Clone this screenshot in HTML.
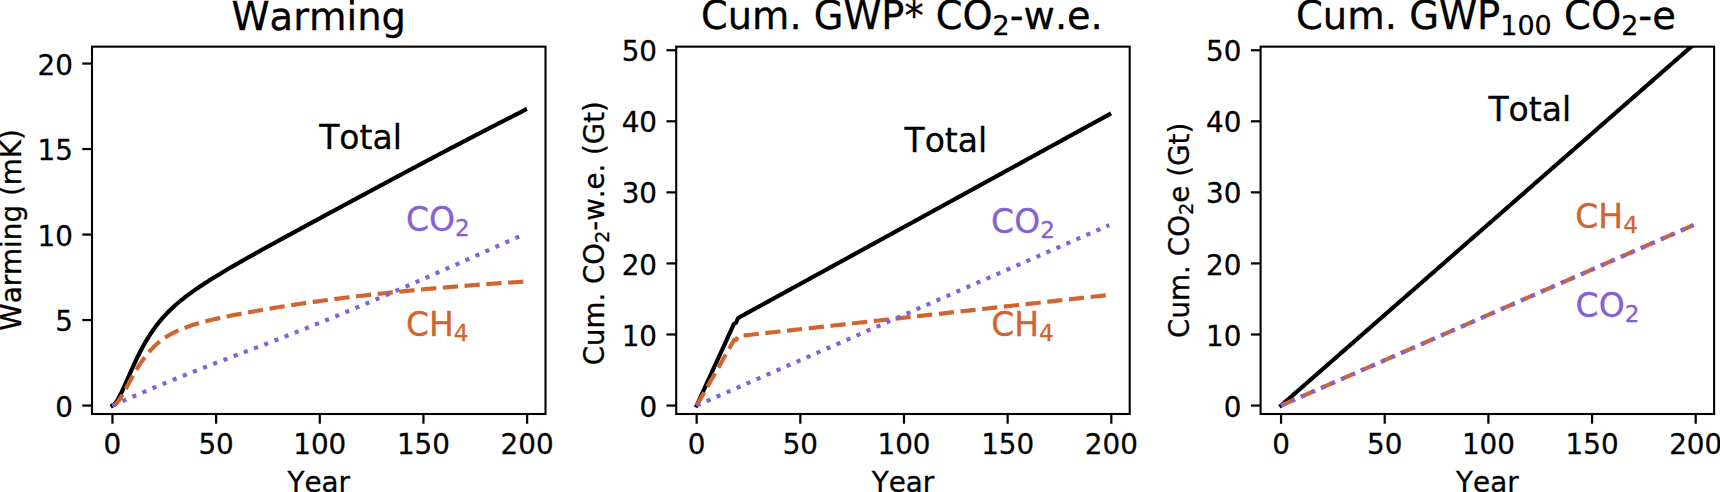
<!DOCTYPE html>
<html><head><meta charset="utf-8"><title>Warming and cumulative emissions</title>
<style>html,body{margin:0;padding:0;background:#fff}svg{display:block}text{font-kerning:none;font-family:"DejaVu Sans","Liberation Sans",sans-serif;fill:#000;stroke:#000;stroke-width:.3px;stroke-linejoin:round}</style></head><body>
<svg width="1720" height="492" viewBox="0 0 1720 492">
<rect width="1720" height="492" fill="#fff"/>
<defs>
<clipPath id="c0"><rect x="92.00" y="46.65" width="453.50" height="367.35"/></clipPath>
<clipPath id="c1"><rect x="676.20" y="46.65" width="453.50" height="367.35"/></clipPath>
<clipPath id="c2"><rect x="1260.60" y="46.65" width="453.50" height="367.35"/></clipPath>
</defs>
<g clip-path="url(#c0)" fill="none" stroke-width="4.17">
<path d="M112.45,405.55 L114.52,404.07 L116.60,401.47 L118.67,398.06 L120.74,394.07 L122.82,389.69 L124.89,385.08 L126.96,380.36 L129.04,375.60 L131.11,370.89 L133.18,366.27 L135.26,361.78 L137.33,357.44 L139.40,353.26 L141.48,349.26 L143.55,345.45 L145.62,341.81 L147.70,338.35 L149.77,335.06 L151.84,331.93 L153.92,328.96 L155.99,326.14 L158.06,323.45 L160.14,320.89 L162.21,318.45 L164.28,316.12 L166.36,313.89 L168.43,311.76 L170.50,309.71 L172.58,307.74 L174.65,305.84 L176.72,304.00 L178.80,302.23 L180.87,300.50 L182.94,298.83 L185.02,297.21 L187.09,295.62 L189.16,294.08 L191.24,292.56 L193.31,291.08 L195.38,289.63 L197.46,288.20 L199.53,286.80 L201.60,285.42 L203.68,284.06 L205.75,282.71 L207.82,281.38 L209.90,280.07 L211.97,278.77 L214.04,277.48 L216.12,276.21 L218.19,274.95 L220.26,273.69 L222.33,272.45 L224.41,271.21 L226.48,269.99 L228.55,268.77 L230.63,267.56 L232.70,266.35 L234.77,265.15 L236.85,263.96 L238.92,262.77 L240.99,261.58 L243.07,260.40 L245.14,259.22 L247.21,258.05 L249.29,256.88 L251.36,255.72 L253.43,254.56 L255.51,253.40 L257.58,252.24 L259.65,251.09 L261.73,249.94 L263.80,248.79 L265.87,247.65 L267.95,246.51 L270.02,245.37 L272.09,244.23 L274.17,243.10 L276.24,241.97 L278.31,240.84 L280.39,239.70 L282.46,238.57 L284.53,237.44 L286.61,236.32 L288.68,235.19 L290.75,234.06 L292.83,232.93 L294.90,231.80 L296.97,230.67 L299.05,229.55 L301.12,228.42 L303.19,227.30 L305.27,226.17 L307.34,225.05 L309.41,223.92 L311.49,222.80 L313.56,221.68 L315.63,220.55 L317.71,219.43 L319.78,218.31 L321.85,217.19 L323.93,216.07 L326.00,214.95 L328.07,213.83 L330.15,212.71 L332.22,211.59 L334.29,210.47 L336.37,209.35 L338.44,208.24 L340.51,207.12 L342.59,206.00 L344.66,204.88 L346.73,203.77 L348.81,202.65 L350.88,201.54 L352.95,200.42 L355.03,199.31 L357.10,198.19 L359.17,197.08 L361.25,195.96 L363.32,194.85 L365.39,193.73 L367.47,192.62 L369.54,191.50 L371.61,190.39 L373.69,189.28 L375.76,188.17 L377.83,187.05 L379.91,185.94 L381.98,184.83 L384.05,183.72 L386.13,182.61 L388.20,181.50 L390.27,180.39 L392.35,179.28 L394.42,178.17 L396.49,177.06 L398.57,175.95 L400.64,174.84 L402.71,173.74 L404.79,172.63 L406.86,171.52 L408.93,170.42 L411.01,169.31 L413.08,168.21 L415.15,167.10 L417.23,166.00 L419.30,164.90 L421.37,163.79 L423.44,162.69 L425.52,161.59 L427.59,160.49 L429.66,159.40 L431.74,158.30 L433.81,157.20 L435.88,156.11 L437.96,155.01 L440.03,153.92 L442.10,152.82 L444.18,151.73 L446.25,150.64 L448.32,149.55 L450.40,148.46 L452.47,147.37 L454.54,146.29 L456.62,145.20 L458.69,144.11 L460.76,143.03 L462.84,141.95 L464.91,140.86 L466.98,139.78 L469.06,138.70 L471.13,137.62 L473.20,136.55 L475.28,135.47 L477.35,134.39 L479.42,133.32 L481.50,132.24 L483.57,131.17 L485.64,130.10 L487.72,129.03 L489.79,127.96 L491.86,126.89 L493.94,125.82 L496.01,124.75 L498.08,123.68 L500.16,122.62 L502.23,121.56 L504.30,120.49 L506.38,119.43 L508.45,118.37 L510.52,117.31 L512.60,116.25 L514.67,115.19 L516.74,114.13 L518.82,113.08 L520.89,112.02 L522.96,110.97 L525.04,109.91" stroke="#000" stroke-linecap="square" stroke-linejoin="round"/>
<path d="M112.45,405.55 L114.52,404.99 L116.60,403.30 L118.67,400.79 L120.74,397.71 L122.82,394.23 L124.89,390.53 L126.96,386.70 L129.04,382.84 L131.11,379.02 L133.18,375.30 L135.26,371.69 L137.33,368.23 L139.40,364.94 L141.48,361.83 L143.55,358.89 L145.62,356.13 L147.70,353.54 L149.77,351.12 L151.84,348.86 L153.92,346.76 L155.99,344.80 L158.06,342.97 L160.14,341.27 L162.21,339.69 L164.28,338.21 L166.36,336.83 L168.43,335.54 L170.50,334.34 L172.58,333.21 L174.65,332.15 L176.72,331.15 L178.80,330.21 L180.87,329.33 L182.94,328.49 L185.02,327.69 L187.09,326.93 L189.16,326.21 L191.24,325.52 L193.31,324.85 L195.38,324.22 L197.46,323.60 L199.53,323.01 L201.60,322.44 L203.68,321.89 L205.75,321.35 L207.82,320.82 L209.90,320.31 L211.97,319.82 L214.04,319.33 L216.12,318.85 L218.19,318.39 L220.26,317.93 L222.33,317.48 L224.41,317.04 L226.48,316.60 L228.55,316.17 L230.63,315.75 L232.70,315.33 L234.77,314.92 L236.85,314.52 L238.92,314.12 L240.99,313.72 L243.07,313.33 L245.14,312.94 L247.21,312.56 L249.29,312.18 L251.36,311.80 L253.43,311.43 L255.51,311.06 L257.58,310.69 L259.65,310.33 L261.73,309.97 L263.80,309.62 L265.87,309.26 L267.95,308.91 L270.02,308.57 L272.09,308.22 L274.17,307.88 L276.24,307.54 L278.31,307.21 L280.39,306.88 L282.46,306.55 L284.53,306.22 L286.61,305.90 L288.68,305.58 L290.75,305.26 L292.83,304.94 L294.90,304.63 L296.97,304.31 L299.05,304.01 L301.12,303.70 L303.19,303.40 L305.27,303.09 L307.34,302.80 L309.41,302.50 L311.49,302.20 L313.56,301.91 L315.63,301.62 L317.71,301.34 L319.78,301.05 L321.85,300.77 L323.93,300.49 L326.00,300.21 L328.07,299.93 L330.15,299.66 L332.22,299.39 L334.29,299.12 L336.37,298.85 L338.44,298.58 L340.51,298.32 L342.59,298.06 L344.66,297.80 L346.73,297.54 L348.81,297.29 L350.88,297.04 L352.95,296.78 L355.03,296.53 L357.10,296.29 L359.17,296.04 L361.25,295.80 L363.32,295.56 L365.39,295.32 L367.47,295.08 L369.54,294.85 L371.61,294.61 L373.69,294.38 L375.76,294.15 L377.83,293.92 L379.91,293.69 L381.98,293.47 L384.05,293.25 L386.13,293.03 L388.20,292.81 L390.27,292.59 L392.35,292.37 L394.42,292.16 L396.49,291.95 L398.57,291.73 L400.64,291.53 L402.71,291.32 L404.79,291.11 L406.86,290.91 L408.93,290.70 L411.01,290.50 L413.08,290.30 L415.15,290.11 L417.23,289.91 L419.30,289.71 L421.37,289.52 L423.44,289.33 L425.52,289.14 L427.59,288.95 L429.66,288.76 L431.74,288.58 L433.81,288.39 L435.88,288.21 L437.96,288.03 L440.03,287.85 L442.10,287.67 L444.18,287.49 L446.25,287.32 L448.32,287.14 L450.40,286.97 L452.47,286.80 L454.54,286.63 L456.62,286.46 L458.69,286.29 L460.76,286.12 L462.84,285.96 L464.91,285.80 L466.98,285.63 L469.06,285.47 L471.13,285.31 L473.20,285.15 L475.28,285.00 L477.35,284.84 L479.42,284.69 L481.50,284.53 L483.57,284.38 L485.64,284.23 L487.72,284.08 L489.79,283.93 L491.86,283.78 L493.94,283.63 L496.01,283.49 L498.08,283.34 L500.16,283.20 L502.23,283.06 L504.30,282.92 L506.38,282.78 L508.45,282.64 L510.52,282.50 L512.60,282.37 L514.67,282.23 L516.74,282.10 L518.82,281.96 L520.89,281.83 L522.96,281.70 L525.04,281.57" stroke="#D1652F" stroke-dasharray="15.232 6.587" stroke-linejoin="round"/>
<path d="M112.45,405.55 L114.52,404.64 L116.60,403.73 L118.67,402.82 L120.74,401.91 L122.82,401.01 L124.89,400.11 L126.96,399.21 L129.04,398.31 L131.11,397.42 L133.18,396.53 L135.26,395.64 L137.33,394.75 L139.40,393.87 L141.48,392.99 L143.55,392.11 L145.62,391.23 L147.70,390.36 L149.77,389.49 L151.84,388.62 L153.92,387.75 L155.99,386.89 L158.06,386.03 L160.14,385.17 L162.21,384.32 L164.28,383.46 L166.36,382.61 L168.43,381.77 L170.50,380.92 L172.58,380.08 L174.65,379.24 L176.72,378.40 L178.80,377.56 L180.87,376.73 L182.94,375.90 L185.02,375.07 L187.09,374.24 L189.16,373.42 L191.24,372.60 L193.31,371.78 L195.38,370.96 L197.46,370.15 L199.53,369.34 L201.60,368.53 L203.68,367.72 L205.75,366.91 L207.82,366.11 L209.90,365.31 L211.97,364.50 L214.04,363.70 L216.12,362.91 L218.19,362.11 L220.26,361.31 L222.33,360.52 L224.41,359.73 L226.48,358.94 L228.55,358.15 L230.63,357.36 L232.70,356.57 L234.77,355.78 L236.85,354.99 L238.92,354.20 L240.99,353.41 L243.07,352.62 L245.14,351.84 L247.21,351.05 L249.29,350.26 L251.36,349.47 L253.43,348.68 L255.51,347.89 L257.58,347.10 L259.65,346.31 L261.73,345.52 L263.80,344.73 L265.87,343.94 L267.95,343.15 L270.02,342.35 L272.09,341.56 L274.17,340.77 L276.24,339.97 L278.31,339.18 L280.39,338.38 L282.46,337.58 L284.53,336.77 L286.61,335.97 L288.68,335.16 L290.75,334.35 L292.83,333.54 L294.90,332.73 L296.97,331.91 L299.05,331.09 L301.12,330.27 L303.19,329.45 L305.27,328.63 L307.34,327.80 L309.41,326.97 L311.49,326.14 L313.56,325.31 L315.63,324.48 L317.71,323.65 L319.78,322.81 L321.85,321.97 L323.93,321.13 L326.00,320.29 L328.07,319.45 L330.15,318.60 L332.22,317.75 L334.29,316.90 L336.37,316.05 L338.44,315.20 L340.51,314.35 L342.59,313.49 L344.66,312.63 L346.73,311.77 L348.81,310.91 L350.88,310.05 L352.95,309.19 L355.03,308.32 L357.10,307.45 L359.17,306.58 L361.25,305.71 L363.32,304.84 L365.39,303.96 L367.47,303.09 L369.54,302.21 L371.61,301.33 L373.69,300.45 L375.76,299.57 L377.83,298.68 L379.91,297.80 L381.98,296.91 L384.05,296.02 L386.13,295.13 L388.20,294.24 L390.27,293.35 L392.35,292.46 L394.42,291.56 L396.49,290.67 L398.57,289.77 L400.64,288.87 L402.71,287.97 L404.79,287.07 L406.86,286.17 L408.93,285.26 L411.01,284.36 L413.08,283.45 L415.15,282.55 L417.23,281.64 L419.30,280.73 L421.37,279.82 L423.44,278.91 L425.52,278.00 L427.59,277.09 L429.66,276.18 L431.74,275.27 L433.81,274.36 L435.88,273.45 L437.96,272.53 L440.03,271.62 L442.10,270.70 L444.18,269.79 L446.25,268.87 L448.32,267.96 L450.40,267.04 L452.47,266.13 L454.54,265.21 L456.62,264.29 L458.69,263.37 L460.76,262.46 L462.84,261.54 L464.91,260.62 L466.98,259.70 L469.06,258.78 L471.13,257.86 L473.20,256.94 L475.28,256.02 L477.35,255.10 L479.42,254.18 L481.50,253.26 L483.57,252.34 L485.64,251.42 L487.72,250.50 L489.79,249.58 L491.86,248.66 L493.94,247.73 L496.01,246.81 L498.08,245.89 L500.16,244.97 L502.23,244.05 L504.30,243.12 L506.38,242.20 L508.45,241.28 L510.52,240.35 L512.60,239.43 L514.67,238.51 L516.74,237.59 L518.82,236.66 L520.89,235.74 L522.96,234.82 L525.04,233.89" stroke="#8562D4" stroke-dasharray="4.117 6.792" stroke-linejoin="round"/>
</g>
<g clip-path="url(#c1)" fill="none" stroke-width="4.17">
<path d="M696.65,405.55 L698.72,401.01 L700.80,396.47 L702.87,391.94 L704.94,387.40 L707.02,382.86 L709.09,378.32 L711.16,373.78 L713.24,369.24 L715.31,364.71 L717.38,360.17 L719.46,355.63 L721.53,351.09 L723.60,346.55 L725.68,342.02 L727.75,337.48 L729.82,332.94 L731.90,328.40 L733.97,323.86 L736.04,322.73 L738.12,317.98 L740.19,316.85 L742.26,315.71 L744.34,314.57 L746.41,313.44 L748.48,312.30 L750.56,311.16 L752.63,310.02 L754.70,308.89 L756.78,307.75 L758.85,306.61 L760.92,305.47 L763.00,304.34 L765.07,303.20 L767.14,302.06 L769.22,300.93 L771.29,299.79 L773.36,298.65 L775.44,297.51 L777.51,296.38 L779.58,295.24 L781.66,294.10 L783.73,292.97 L785.80,291.83 L787.88,290.69 L789.95,289.55 L792.02,288.42 L794.10,287.28 L796.17,286.14 L798.24,285.00 L800.32,283.87 L802.39,282.73 L804.46,281.59 L806.53,280.46 L808.61,279.32 L810.68,278.18 L812.75,277.04 L814.83,275.91 L816.90,274.77 L818.97,273.63 L821.05,272.50 L823.12,271.36 L825.19,270.22 L827.27,269.08 L829.34,267.95 L831.41,266.81 L833.49,265.67 L835.56,264.53 L837.63,263.40 L839.71,262.26 L841.78,261.12 L843.85,259.99 L845.93,258.85 L848.00,257.71 L850.07,256.57 L852.15,255.44 L854.22,254.30 L856.29,253.16 L858.37,252.03 L860.44,250.89 L862.51,249.75 L864.59,248.61 L866.66,247.48 L868.73,246.34 L870.81,245.20 L872.88,244.06 L874.95,242.93 L877.03,241.79 L879.10,240.65 L881.17,239.52 L883.25,238.38 L885.32,237.24 L887.39,236.10 L889.47,234.97 L891.54,233.83 L893.61,232.69 L895.69,231.55 L897.76,230.42 L899.83,229.28 L901.91,228.14 L903.98,227.01 L906.05,225.87 L908.13,224.73 L910.20,223.59 L912.27,222.46 L914.35,221.32 L916.42,220.18 L918.49,219.05 L920.57,217.91 L922.64,216.77 L924.71,215.63 L926.79,214.50 L928.86,213.36 L930.93,212.22 L933.01,211.08 L935.08,209.95 L937.15,208.81 L939.23,207.67 L941.30,206.54 L943.37,205.40 L945.45,204.26 L947.52,203.12 L949.59,201.99 L951.67,200.85 L953.74,199.71 L955.81,198.58 L957.89,197.44 L959.96,196.30 L962.03,195.16 L964.11,194.03 L966.18,192.89 L968.25,191.75 L970.33,190.61 L972.40,189.48 L974.47,188.34 L976.55,187.20 L978.62,186.07 L980.69,184.93 L982.77,183.79 L984.84,182.65 L986.91,181.52 L988.99,180.38 L991.06,179.24 L993.13,178.10 L995.21,176.97 L997.28,175.83 L999.35,174.69 L1001.43,173.56 L1003.50,172.42 L1005.57,171.28 L1007.65,170.14 L1009.72,169.01 L1011.79,167.87 L1013.86,166.73 L1015.94,165.60 L1018.01,164.46 L1020.08,163.32 L1022.16,162.18 L1024.23,161.05 L1026.30,159.91 L1028.38,158.77 L1030.45,157.63 L1032.52,156.50 L1034.60,155.36 L1036.67,154.22 L1038.74,153.09 L1040.82,151.95 L1042.89,150.81 L1044.96,149.67 L1047.04,148.54 L1049.11,147.40 L1051.18,146.26 L1053.26,145.13 L1055.33,143.99 L1057.40,142.85 L1059.48,141.71 L1061.55,140.58 L1063.62,139.44 L1065.70,138.30 L1067.77,137.16 L1069.84,136.03 L1071.92,134.89 L1073.99,133.75 L1076.06,132.62 L1078.14,131.48 L1080.21,130.34 L1082.28,129.20 L1084.36,128.07 L1086.43,126.93 L1088.50,125.79 L1090.58,124.66 L1092.65,123.52 L1094.72,122.38 L1096.80,121.24 L1098.87,120.11 L1100.94,118.97 L1103.02,117.83 L1105.09,116.69 L1107.16,115.56 L1109.24,114.42" stroke="#000" stroke-linecap="square" stroke-linejoin="round"/>
<path d="M696.65,405.55 L698.72,401.92 L700.80,398.29 L702.87,394.66 L704.94,391.03 L707.02,387.39 L709.09,383.76 L711.16,380.13 L713.24,376.50 L715.31,372.87 L717.38,369.24 L719.46,365.61 L721.53,361.98 L723.60,358.34 L725.68,354.71 L727.75,351.08 L729.82,347.45 L731.90,343.82 L733.97,340.19 L736.04,339.96 L738.12,336.12 L740.19,335.89 L742.26,335.66 L744.34,335.43 L746.41,335.20 L748.48,334.97 L750.56,334.74 L752.63,334.51 L754.70,334.28 L756.78,334.05 L758.85,333.82 L760.92,333.59 L763.00,333.36 L765.07,333.13 L767.14,332.90 L769.22,332.67 L771.29,332.44 L773.36,332.21 L775.44,331.98 L777.51,331.75 L779.58,331.52 L781.66,331.29 L783.73,331.06 L785.80,330.83 L787.88,330.60 L789.95,330.37 L792.02,330.14 L794.10,329.91 L796.17,329.68 L798.24,329.45 L800.32,329.22 L802.39,328.99 L804.46,328.76 L806.53,328.53 L808.61,328.30 L810.68,328.07 L812.75,327.84 L814.83,327.61 L816.90,327.38 L818.97,327.15 L821.05,326.92 L823.12,326.68 L825.19,326.45 L827.27,326.22 L829.34,325.99 L831.41,325.76 L833.49,325.53 L835.56,325.30 L837.63,325.07 L839.71,324.84 L841.78,324.61 L843.85,324.38 L845.93,324.15 L848.00,323.92 L850.07,323.69 L852.15,323.46 L854.22,323.23 L856.29,323.00 L858.37,322.77 L860.44,322.54 L862.51,322.31 L864.59,322.08 L866.66,321.85 L868.73,321.62 L870.81,321.39 L872.88,321.16 L874.95,320.93 L877.03,320.70 L879.10,320.47 L881.17,320.24 L883.25,320.01 L885.32,319.78 L887.39,319.55 L889.47,319.32 L891.54,319.09 L893.61,318.86 L895.69,318.63 L897.76,318.40 L899.83,318.17 L901.91,317.94 L903.98,317.71 L906.05,317.48 L908.13,317.25 L910.20,317.01 L912.27,316.78 L914.35,316.55 L916.42,316.32 L918.49,316.09 L920.57,315.86 L922.64,315.63 L924.71,315.40 L926.79,315.17 L928.86,314.94 L930.93,314.71 L933.01,314.48 L935.08,314.25 L937.15,314.02 L939.23,313.79 L941.30,313.56 L943.37,313.33 L945.45,313.10 L947.52,312.87 L949.59,312.64 L951.67,312.41 L953.74,312.18 L955.81,311.95 L957.89,311.72 L959.96,311.49 L962.03,311.26 L964.11,311.03 L966.18,310.80 L968.25,310.57 L970.33,310.34 L972.40,310.11 L974.47,309.88 L976.55,309.65 L978.62,309.42 L980.69,309.19 L982.77,308.96 L984.84,308.73 L986.91,308.50 L988.99,308.27 L991.06,308.04 L993.13,307.81 L995.21,307.58 L997.28,307.35 L999.35,307.11 L1001.43,306.88 L1003.50,306.65 L1005.57,306.42 L1007.65,306.19 L1009.72,305.96 L1011.79,305.73 L1013.86,305.50 L1015.94,305.27 L1018.01,305.04 L1020.08,304.81 L1022.16,304.58 L1024.23,304.35 L1026.30,304.12 L1028.38,303.89 L1030.45,303.66 L1032.52,303.43 L1034.60,303.20 L1036.67,302.97 L1038.74,302.74 L1040.82,302.51 L1042.89,302.28 L1044.96,302.05 L1047.04,301.82 L1049.11,301.59 L1051.18,301.36 L1053.26,301.13 L1055.33,300.90 L1057.40,300.67 L1059.48,300.44 L1061.55,300.21 L1063.62,299.98 L1065.70,299.75 L1067.77,299.52 L1069.84,299.29 L1071.92,299.06 L1073.99,298.83 L1076.06,298.60 L1078.14,298.37 L1080.21,298.14 L1082.28,297.91 L1084.36,297.68 L1086.43,297.45 L1088.50,297.21 L1090.58,296.98 L1092.65,296.75 L1094.72,296.52 L1096.80,296.29 L1098.87,296.06 L1100.94,295.83 L1103.02,295.60 L1105.09,295.37 L1107.16,295.14 L1109.24,294.91" stroke="#D1652F" stroke-dasharray="15.232 6.587" stroke-linejoin="round"/>
<path d="M696.65,405.55 L698.72,404.64 L700.80,403.74 L702.87,402.83 L704.94,401.92 L707.02,401.02 L709.09,400.11 L711.16,399.20 L713.24,398.29 L715.31,397.39 L717.38,396.48 L719.46,395.57 L721.53,394.67 L723.60,393.76 L725.68,392.85 L727.75,391.95 L729.82,391.04 L731.90,390.13 L733.97,389.22 L736.04,388.32 L738.12,387.41 L740.19,386.50 L742.26,385.60 L744.34,384.69 L746.41,383.78 L748.48,382.88 L750.56,381.97 L752.63,381.06 L754.70,380.15 L756.78,379.25 L758.85,378.34 L760.92,377.43 L763.00,376.53 L765.07,375.62 L767.14,374.71 L769.22,373.81 L771.29,372.90 L773.36,371.99 L775.44,371.08 L777.51,370.18 L779.58,369.27 L781.66,368.36 L783.73,367.46 L785.80,366.55 L787.88,365.64 L789.95,364.74 L792.02,363.83 L794.10,362.92 L796.17,362.01 L798.24,361.11 L800.32,360.20 L802.39,359.29 L804.46,358.39 L806.53,357.48 L808.61,356.57 L810.68,355.67 L812.75,354.76 L814.83,353.85 L816.90,352.94 L818.97,352.04 L821.05,351.13 L823.12,350.22 L825.19,349.32 L827.27,348.41 L829.34,347.50 L831.41,346.60 L833.49,345.69 L835.56,344.78 L837.63,343.87 L839.71,342.97 L841.78,342.06 L843.85,341.15 L845.93,340.25 L848.00,339.34 L850.07,338.43 L852.15,337.53 L854.22,336.62 L856.29,335.71 L858.37,334.80 L860.44,333.90 L862.51,332.99 L864.59,332.08 L866.66,331.18 L868.73,330.27 L870.81,329.36 L872.88,328.46 L874.95,327.55 L877.03,326.64 L879.10,325.73 L881.17,324.83 L883.25,323.92 L885.32,323.01 L887.39,322.11 L889.47,321.20 L891.54,320.29 L893.61,319.39 L895.69,318.48 L897.76,317.57 L899.83,316.66 L901.91,315.76 L903.98,314.85 L906.05,313.94 L908.13,313.04 L910.20,312.13 L912.27,311.22 L914.35,310.32 L916.42,309.41 L918.49,308.50 L920.57,307.59 L922.64,306.69 L924.71,305.78 L926.79,304.87 L928.86,303.97 L930.93,303.06 L933.01,302.15 L935.08,301.25 L937.15,300.34 L939.23,299.43 L941.30,298.52 L943.37,297.62 L945.45,296.71 L947.52,295.80 L949.59,294.90 L951.67,293.99 L953.74,293.08 L955.81,292.18 L957.89,291.27 L959.96,290.36 L962.03,289.45 L964.11,288.55 L966.18,287.64 L968.25,286.73 L970.33,285.83 L972.40,284.92 L974.47,284.01 L976.55,283.11 L978.62,282.20 L980.69,281.29 L982.77,280.38 L984.84,279.48 L986.91,278.57 L988.99,277.66 L991.06,276.76 L993.13,275.85 L995.21,274.94 L997.28,274.04 L999.35,273.13 L1001.43,272.22 L1003.50,271.31 L1005.57,270.41 L1007.65,269.50 L1009.72,268.59 L1011.79,267.69 L1013.86,266.78 L1015.94,265.87 L1018.01,264.97 L1020.08,264.06 L1022.16,263.15 L1024.23,262.24 L1026.30,261.34 L1028.38,260.43 L1030.45,259.52 L1032.52,258.62 L1034.60,257.71 L1036.67,256.80 L1038.74,255.90 L1040.82,254.99 L1042.89,254.08 L1044.96,253.17 L1047.04,252.27 L1049.11,251.36 L1051.18,250.45 L1053.26,249.55 L1055.33,248.64 L1057.40,247.73 L1059.48,246.83 L1061.55,245.92 L1063.62,245.01 L1065.70,244.10 L1067.77,243.20 L1069.84,242.29 L1071.92,241.38 L1073.99,240.48 L1076.06,239.57 L1078.14,238.66 L1080.21,237.76 L1082.28,236.85 L1084.36,235.94 L1086.43,235.03 L1088.50,234.13 L1090.58,233.22 L1092.65,232.31 L1094.72,231.41 L1096.80,230.50 L1098.87,229.59 L1100.94,228.69 L1103.02,227.78 L1105.09,226.87 L1107.16,225.96 L1109.24,225.06" stroke="#8562D4" stroke-dasharray="4.117 6.792" stroke-linejoin="round"/>
</g>
<g clip-path="url(#c2)" fill="none" stroke-width="4.17">
<path d="M1281.05,405.55 L1283.12,403.74 L1285.20,401.92 L1287.27,400.11 L1289.34,398.29 L1291.42,396.48 L1293.49,394.67 L1295.56,392.85 L1297.64,391.04 L1299.71,389.22 L1301.78,387.41 L1303.86,385.60 L1305.93,383.78 L1308.00,381.97 L1310.08,380.15 L1312.15,378.34 L1314.22,376.53 L1316.30,374.71 L1318.37,372.90 L1320.44,371.08 L1322.52,369.27 L1324.59,367.46 L1326.66,365.64 L1328.74,363.83 L1330.81,362.01 L1332.88,360.20 L1334.96,358.39 L1337.03,356.57 L1339.10,354.76 L1341.18,352.94 L1343.25,351.13 L1345.32,349.32 L1347.40,347.50 L1349.47,345.69 L1351.54,343.87 L1353.62,342.06 L1355.69,340.25 L1357.76,338.43 L1359.84,336.62 L1361.91,334.80 L1363.98,332.99 L1366.06,331.18 L1368.13,329.36 L1370.20,327.55 L1372.28,325.73 L1374.35,323.92 L1376.42,322.11 L1378.50,320.29 L1380.57,318.48 L1382.64,316.66 L1384.71,314.85 L1386.79,313.04 L1388.86,311.22 L1390.93,309.41 L1393.01,307.59 L1395.08,305.78 L1397.15,303.97 L1399.23,302.15 L1401.30,300.34 L1403.37,298.52 L1405.45,296.71 L1407.52,294.90 L1409.59,293.08 L1411.67,291.27 L1413.74,289.45 L1415.81,287.64 L1417.89,285.83 L1419.96,284.01 L1422.03,282.20 L1424.11,280.38 L1426.18,278.57 L1428.25,276.76 L1430.33,274.94 L1432.40,273.13 L1434.47,271.31 L1436.55,269.50 L1438.62,267.69 L1440.69,265.87 L1442.77,264.06 L1444.84,262.24 L1446.91,260.43 L1448.99,258.62 L1451.06,256.80 L1453.13,254.99 L1455.21,253.17 L1457.28,251.36 L1459.35,249.55 L1461.43,247.73 L1463.50,245.92 L1465.57,244.10 L1467.65,242.29 L1469.72,240.48 L1471.79,238.66 L1473.87,236.85 L1475.94,235.03 L1478.01,233.22 L1480.09,231.41 L1482.16,229.59 L1484.23,227.78 L1486.31,225.96 L1488.38,224.15 L1490.45,222.34 L1492.53,220.52 L1494.60,218.71 L1496.67,216.89 L1498.75,215.08 L1500.82,213.27 L1502.89,211.45 L1504.97,209.64 L1507.04,207.82 L1509.11,206.01 L1511.19,204.20 L1513.26,202.38 L1515.33,200.57 L1517.41,198.75 L1519.48,196.94 L1521.55,195.13 L1523.63,193.31 L1525.70,191.50 L1527.77,189.68 L1529.85,187.87 L1531.92,186.06 L1533.99,184.24 L1536.07,182.43 L1538.14,180.61 L1540.21,178.80 L1542.29,176.99 L1544.36,175.17 L1546.43,173.36 L1548.51,171.54 L1550.58,169.73 L1552.65,167.92 L1554.73,166.10 L1556.80,164.29 L1558.87,162.47 L1560.95,160.66 L1563.02,158.85 L1565.09,157.03 L1567.17,155.22 L1569.24,153.40 L1571.31,151.59 L1573.39,149.78 L1575.46,147.96 L1577.53,146.15 L1579.61,144.33 L1581.68,142.52 L1583.75,140.71 L1585.83,138.89 L1587.90,137.08 L1589.97,135.26 L1592.05,133.45 L1594.12,131.64 L1596.19,129.82 L1598.26,128.01 L1600.34,126.19 L1602.41,124.38 L1604.48,122.57 L1606.56,120.75 L1608.63,118.94 L1610.70,117.12 L1612.78,115.31 L1614.85,113.50 L1616.92,111.68 L1619.00,109.87 L1621.07,108.05 L1623.14,106.24 L1625.22,104.43 L1627.29,102.61 L1629.36,100.80 L1631.44,98.99 L1633.51,97.17 L1635.58,95.36 L1637.66,93.54 L1639.73,91.73 L1641.80,89.92 L1643.88,88.10 L1645.95,86.29 L1648.02,84.47 L1650.10,82.66 L1652.17,80.85 L1654.24,79.03 L1656.32,77.22 L1658.39,75.40 L1660.46,73.59 L1662.54,71.78 L1664.61,69.96 L1666.68,68.15 L1668.76,66.33 L1670.83,64.52 L1672.90,62.71 L1674.98,60.89 L1677.05,59.08 L1679.12,57.26 L1681.20,55.45 L1683.27,53.64 L1685.34,51.82 L1687.42,50.01 L1689.49,48.19 L1691.56,46.38 L1693.64,44.57" stroke="#000" stroke-linecap="square" stroke-linejoin="round"/>
<path d="M1281.05,405.55 L1283.12,404.64 L1285.20,403.74 L1287.27,402.83 L1289.34,401.92 L1291.42,401.02 L1293.49,400.11 L1295.56,399.20 L1297.64,398.29 L1299.71,397.39 L1301.78,396.48 L1303.86,395.57 L1305.93,394.67 L1308.00,393.76 L1310.08,392.85 L1312.15,391.95 L1314.22,391.04 L1316.30,390.13 L1318.37,389.22 L1320.44,388.32 L1322.52,387.41 L1324.59,386.50 L1326.66,385.60 L1328.74,384.69 L1330.81,383.78 L1332.88,382.88 L1334.96,381.97 L1337.03,381.06 L1339.10,380.15 L1341.18,379.25 L1343.25,378.34 L1345.32,377.43 L1347.40,376.53 L1349.47,375.62 L1351.54,374.71 L1353.62,373.81 L1355.69,372.90 L1357.76,371.99 L1359.84,371.08 L1361.91,370.18 L1363.98,369.27 L1366.06,368.36 L1368.13,367.46 L1370.20,366.55 L1372.28,365.64 L1374.35,364.74 L1376.42,363.83 L1378.50,362.92 L1380.57,362.01 L1382.64,361.11 L1384.71,360.20 L1386.79,359.29 L1388.86,358.39 L1390.93,357.48 L1393.01,356.57 L1395.08,355.67 L1397.15,354.76 L1399.23,353.85 L1401.30,352.94 L1403.37,352.04 L1405.45,351.13 L1407.52,350.22 L1409.59,349.32 L1411.67,348.41 L1413.74,347.50 L1415.81,346.60 L1417.89,345.69 L1419.96,344.78 L1422.03,343.87 L1424.11,342.97 L1426.18,342.06 L1428.25,341.15 L1430.33,340.25 L1432.40,339.34 L1434.47,338.43 L1436.55,337.53 L1438.62,336.62 L1440.69,335.71 L1442.77,334.80 L1444.84,333.90 L1446.91,332.99 L1448.99,332.08 L1451.06,331.18 L1453.13,330.27 L1455.21,329.36 L1457.28,328.46 L1459.35,327.55 L1461.43,326.64 L1463.50,325.73 L1465.57,324.83 L1467.65,323.92 L1469.72,323.01 L1471.79,322.11 L1473.87,321.20 L1475.94,320.29 L1478.01,319.39 L1480.09,318.48 L1482.16,317.57 L1484.23,316.66 L1486.31,315.76 L1488.38,314.85 L1490.45,313.94 L1492.53,313.04 L1494.60,312.13 L1496.67,311.22 L1498.75,310.32 L1500.82,309.41 L1502.89,308.50 L1504.97,307.59 L1507.04,306.69 L1509.11,305.78 L1511.19,304.87 L1513.26,303.97 L1515.33,303.06 L1517.41,302.15 L1519.48,301.25 L1521.55,300.34 L1523.63,299.43 L1525.70,298.52 L1527.77,297.62 L1529.85,296.71 L1531.92,295.80 L1533.99,294.90 L1536.07,293.99 L1538.14,293.08 L1540.21,292.18 L1542.29,291.27 L1544.36,290.36 L1546.43,289.45 L1548.51,288.55 L1550.58,287.64 L1552.65,286.73 L1554.73,285.83 L1556.80,284.92 L1558.87,284.01 L1560.95,283.11 L1563.02,282.20 L1565.09,281.29 L1567.17,280.38 L1569.24,279.48 L1571.31,278.57 L1573.39,277.66 L1575.46,276.76 L1577.53,275.85 L1579.61,274.94 L1581.68,274.04 L1583.75,273.13 L1585.83,272.22 L1587.90,271.31 L1589.97,270.41 L1592.05,269.50 L1594.12,268.59 L1596.19,267.69 L1598.26,266.78 L1600.34,265.87 L1602.41,264.97 L1604.48,264.06 L1606.56,263.15 L1608.63,262.24 L1610.70,261.34 L1612.78,260.43 L1614.85,259.52 L1616.92,258.62 L1619.00,257.71 L1621.07,256.80 L1623.14,255.90 L1625.22,254.99 L1627.29,254.08 L1629.36,253.17 L1631.44,252.27 L1633.51,251.36 L1635.58,250.45 L1637.66,249.55 L1639.73,248.64 L1641.80,247.73 L1643.88,246.83 L1645.95,245.92 L1648.02,245.01 L1650.10,244.10 L1652.17,243.20 L1654.24,242.29 L1656.32,241.38 L1658.39,240.48 L1660.46,239.57 L1662.54,238.66 L1664.61,237.76 L1666.68,236.85 L1668.76,235.94 L1670.83,235.03 L1672.90,234.13 L1674.98,233.22 L1677.05,232.31 L1679.12,231.41 L1681.20,230.50 L1683.27,229.59 L1685.34,228.69 L1687.42,227.78 L1689.49,226.87 L1691.56,225.96 L1693.64,225.06" stroke="#D1652F" stroke-dasharray="15.232 6.587" stroke-linejoin="round"/>
<path d="M1281.05,405.55 L1283.12,404.64 L1285.20,403.74 L1287.27,402.83 L1289.34,401.92 L1291.42,401.02 L1293.49,400.11 L1295.56,399.20 L1297.64,398.29 L1299.71,397.39 L1301.78,396.48 L1303.86,395.57 L1305.93,394.67 L1308.00,393.76 L1310.08,392.85 L1312.15,391.95 L1314.22,391.04 L1316.30,390.13 L1318.37,389.22 L1320.44,388.32 L1322.52,387.41 L1324.59,386.50 L1326.66,385.60 L1328.74,384.69 L1330.81,383.78 L1332.88,382.88 L1334.96,381.97 L1337.03,381.06 L1339.10,380.15 L1341.18,379.25 L1343.25,378.34 L1345.32,377.43 L1347.40,376.53 L1349.47,375.62 L1351.54,374.71 L1353.62,373.81 L1355.69,372.90 L1357.76,371.99 L1359.84,371.08 L1361.91,370.18 L1363.98,369.27 L1366.06,368.36 L1368.13,367.46 L1370.20,366.55 L1372.28,365.64 L1374.35,364.74 L1376.42,363.83 L1378.50,362.92 L1380.57,362.01 L1382.64,361.11 L1384.71,360.20 L1386.79,359.29 L1388.86,358.39 L1390.93,357.48 L1393.01,356.57 L1395.08,355.67 L1397.15,354.76 L1399.23,353.85 L1401.30,352.94 L1403.37,352.04 L1405.45,351.13 L1407.52,350.22 L1409.59,349.32 L1411.67,348.41 L1413.74,347.50 L1415.81,346.60 L1417.89,345.69 L1419.96,344.78 L1422.03,343.87 L1424.11,342.97 L1426.18,342.06 L1428.25,341.15 L1430.33,340.25 L1432.40,339.34 L1434.47,338.43 L1436.55,337.53 L1438.62,336.62 L1440.69,335.71 L1442.77,334.80 L1444.84,333.90 L1446.91,332.99 L1448.99,332.08 L1451.06,331.18 L1453.13,330.27 L1455.21,329.36 L1457.28,328.46 L1459.35,327.55 L1461.43,326.64 L1463.50,325.73 L1465.57,324.83 L1467.65,323.92 L1469.72,323.01 L1471.79,322.11 L1473.87,321.20 L1475.94,320.29 L1478.01,319.39 L1480.09,318.48 L1482.16,317.57 L1484.23,316.66 L1486.31,315.76 L1488.38,314.85 L1490.45,313.94 L1492.53,313.04 L1494.60,312.13 L1496.67,311.22 L1498.75,310.32 L1500.82,309.41 L1502.89,308.50 L1504.97,307.59 L1507.04,306.69 L1509.11,305.78 L1511.19,304.87 L1513.26,303.97 L1515.33,303.06 L1517.41,302.15 L1519.48,301.25 L1521.55,300.34 L1523.63,299.43 L1525.70,298.52 L1527.77,297.62 L1529.85,296.71 L1531.92,295.80 L1533.99,294.90 L1536.07,293.99 L1538.14,293.08 L1540.21,292.18 L1542.29,291.27 L1544.36,290.36 L1546.43,289.45 L1548.51,288.55 L1550.58,287.64 L1552.65,286.73 L1554.73,285.83 L1556.80,284.92 L1558.87,284.01 L1560.95,283.11 L1563.02,282.20 L1565.09,281.29 L1567.17,280.38 L1569.24,279.48 L1571.31,278.57 L1573.39,277.66 L1575.46,276.76 L1577.53,275.85 L1579.61,274.94 L1581.68,274.04 L1583.75,273.13 L1585.83,272.22 L1587.90,271.31 L1589.97,270.41 L1592.05,269.50 L1594.12,268.59 L1596.19,267.69 L1598.26,266.78 L1600.34,265.87 L1602.41,264.97 L1604.48,264.06 L1606.56,263.15 L1608.63,262.24 L1610.70,261.34 L1612.78,260.43 L1614.85,259.52 L1616.92,258.62 L1619.00,257.71 L1621.07,256.80 L1623.14,255.90 L1625.22,254.99 L1627.29,254.08 L1629.36,253.17 L1631.44,252.27 L1633.51,251.36 L1635.58,250.45 L1637.66,249.55 L1639.73,248.64 L1641.80,247.73 L1643.88,246.83 L1645.95,245.92 L1648.02,245.01 L1650.10,244.10 L1652.17,243.20 L1654.24,242.29 L1656.32,241.38 L1658.39,240.48 L1660.46,239.57 L1662.54,238.66 L1664.61,237.76 L1666.68,236.85 L1668.76,235.94 L1670.83,235.03 L1672.90,234.13 L1674.98,233.22 L1677.05,232.31 L1679.12,231.41 L1681.20,230.50 L1683.27,229.59 L1685.34,228.69 L1687.42,227.78 L1689.49,226.87 L1691.56,225.96 L1693.64,225.06" stroke="#8562D4" stroke-dasharray="4.117 6.792" stroke-linejoin="round"/>
</g>
<g stroke="#000" stroke-width="2.22" fill="none">
<rect x="92.00" y="46.65" width="453.50" height="367.35" stroke-linejoin="miter" stroke-width="2.1"/>
<line x1="112.45" y1="414.00" x2="112.45" y2="423.72"/>
<line x1="216.12" y1="414.00" x2="216.12" y2="423.72"/>
<line x1="319.78" y1="414.00" x2="319.78" y2="423.72"/>
<line x1="423.44" y1="414.00" x2="423.44" y2="423.72"/>
<line x1="527.11" y1="414.00" x2="527.11" y2="423.72"/>
<line x1="82.28" y1="405.55" x2="92.00" y2="405.55"/>
<line x1="82.28" y1="320.05" x2="92.00" y2="320.05"/>
<line x1="82.28" y1="234.55" x2="92.00" y2="234.55"/>
<line x1="82.28" y1="149.05" x2="92.00" y2="149.05"/>
<line x1="82.28" y1="63.55" x2="92.00" y2="63.55"/>
</g>
<g font-size="27.78" text-anchor="middle">
<text x="112.45" y="454.40">0</text>
<text x="216.12" y="454.40">50</text>
<text x="319.78" y="454.40">100</text>
<text x="423.44" y="454.40">150</text>
<text x="527.11" y="454.40">200</text>
<text x="318.75" y="491.70">Year</text>
</g>
<g font-size="27.78" text-anchor="end">
<text x="72.86" y="416.65">0</text>
<text x="72.86" y="331.15">5</text>
<text x="72.86" y="245.65">10</text>
<text x="72.86" y="160.15">15</text>
<text x="72.86" y="74.65">20</text>
</g>
<g stroke="#000" stroke-width="2.22" fill="none">
<rect x="676.20" y="46.65" width="453.50" height="367.35" stroke-linejoin="miter" stroke-width="2.1"/>
<line x1="696.65" y1="414.00" x2="696.65" y2="423.72"/>
<line x1="800.32" y1="414.00" x2="800.32" y2="423.72"/>
<line x1="903.98" y1="414.00" x2="903.98" y2="423.72"/>
<line x1="1007.65" y1="414.00" x2="1007.65" y2="423.72"/>
<line x1="1111.31" y1="414.00" x2="1111.31" y2="423.72"/>
<line x1="666.48" y1="405.55" x2="676.20" y2="405.55"/>
<line x1="666.48" y1="334.49" x2="676.20" y2="334.49"/>
<line x1="666.48" y1="263.43" x2="676.20" y2="263.43"/>
<line x1="666.48" y1="192.37" x2="676.20" y2="192.37"/>
<line x1="666.48" y1="121.31" x2="676.20" y2="121.31"/>
<line x1="666.48" y1="50.25" x2="676.20" y2="50.25"/>
</g>
<g font-size="27.78" text-anchor="middle">
<text x="696.65" y="454.40">0</text>
<text x="800.32" y="454.40">50</text>
<text x="903.98" y="454.40">100</text>
<text x="1007.65" y="454.40">150</text>
<text x="1111.31" y="454.40">200</text>
<text x="902.95" y="491.70">Year</text>
</g>
<g font-size="27.78" text-anchor="end">
<text x="657.06" y="416.65">0</text>
<text x="657.06" y="345.59">10</text>
<text x="657.06" y="274.53">20</text>
<text x="657.06" y="203.47">30</text>
<text x="657.06" y="132.41">40</text>
<text x="657.06" y="61.35">50</text>
</g>
<g stroke="#000" stroke-width="2.22" fill="none">
<rect x="1260.60" y="46.65" width="453.50" height="367.35" stroke-linejoin="miter" stroke-width="2.1"/>
<line x1="1281.05" y1="414.00" x2="1281.05" y2="423.72"/>
<line x1="1384.71" y1="414.00" x2="1384.71" y2="423.72"/>
<line x1="1488.38" y1="414.00" x2="1488.38" y2="423.72"/>
<line x1="1592.05" y1="414.00" x2="1592.05" y2="423.72"/>
<line x1="1695.71" y1="414.00" x2="1695.71" y2="423.72"/>
<line x1="1250.88" y1="405.55" x2="1260.60" y2="405.55"/>
<line x1="1250.88" y1="334.49" x2="1260.60" y2="334.49"/>
<line x1="1250.88" y1="263.43" x2="1260.60" y2="263.43"/>
<line x1="1250.88" y1="192.37" x2="1260.60" y2="192.37"/>
<line x1="1250.88" y1="121.31" x2="1260.60" y2="121.31"/>
<line x1="1250.88" y1="50.25" x2="1260.60" y2="50.25"/>
</g>
<g font-size="27.78" text-anchor="middle">
<text x="1281.05" y="454.40">0</text>
<text x="1384.71" y="454.40">50</text>
<text x="1488.38" y="454.40">100</text>
<text x="1592.05" y="454.40">150</text>
<text x="1695.71" y="454.40">200</text>
<text x="1487.35" y="491.70">Year</text>
</g>
<g font-size="27.78" text-anchor="end">
<text x="1241.46" y="416.65">0</text>
<text x="1241.46" y="345.59">10</text>
<text x="1241.46" y="274.53">20</text>
<text x="1241.46" y="203.47">30</text>
<text x="1241.46" y="132.41">40</text>
<text x="1241.46" y="61.35">50</text>
</g>
<g font-size="38.50" text-anchor="middle">
<text x="318.75" y="30">Warming</text>
<text x="901.95" y="28.8" font-size="38.31">Cum. GWP* CO<tspan font-size="26.95" dy="5.85">2</tspan><tspan dy="-5.85">-w.e.</tspan></text>
<text x="1485.95" y="28.8">Cum. GWP<tspan font-size="26.95" dy="5.85">100</tspan><tspan dy="-5.85"> CO</tspan><tspan font-size="26.95" dy="5.85">2</tspan><tspan dy="-5.85">-e</tspan></text>
</g>
<g font-size="27.78" text-anchor="middle">
<text transform="translate(21.00,230.00) rotate(-90)">Warming (mK)</text>
<text transform="translate(604.00,233.20) rotate(-90)" font-size="27.58">Cum. CO<tspan font-size="19.44" dy="4.70">2</tspan><tspan dy="-4.70">-w.e. (Gt)</tspan></text>
<text transform="translate(1188.50,230.30) rotate(-90)">Cum. CO<tspan font-size="19.44" dy="4.70">2</tspan><tspan dy="-4.70">e (Gt)</tspan></text>
</g>
<g font-size="33.00">
<text x="319.20" y="149.00" style="fill:#000;stroke:#000">Total</text>
<text x="406.00" y="230.80" style="fill:#8562D4;stroke:#8562D4">CO<tspan font-size="23.10" dy="5.20">2</tspan><tspan dy="-5.20"></tspan></text>
<text x="406.00" y="335.60" style="fill:#D1652F;stroke:#D1652F">CH<tspan font-size="23.10" dy="5.20">4</tspan><tspan dy="-5.20"></tspan></text>
<text x="904.50" y="151.60" style="fill:#000;stroke:#000">Total</text>
<text x="991.10" y="232.80" style="fill:#8562D4;stroke:#8562D4">CO<tspan font-size="23.10" dy="5.20">2</tspan><tspan dy="-5.20"></tspan></text>
<text x="991.20" y="336.10" style="fill:#D1652F;stroke:#D1652F">CH<tspan font-size="23.10" dy="5.20">4</tspan><tspan dy="-5.20"></tspan></text>
<text x="1488.40" y="121.00" style="fill:#000;stroke:#000">Total</text>
<text x="1575.30" y="227.90" style="fill:#D1652F;stroke:#D1652F">CH<tspan font-size="23.10" dy="5.20">4</tspan><tspan dy="-5.20"></tspan></text>
<text x="1575.60" y="317.00" style="fill:#8562D4;stroke:#8562D4">CO<tspan font-size="23.10" dy="5.20">2</tspan><tspan dy="-5.20"></tspan></text>
</g>
</svg></body></html>
